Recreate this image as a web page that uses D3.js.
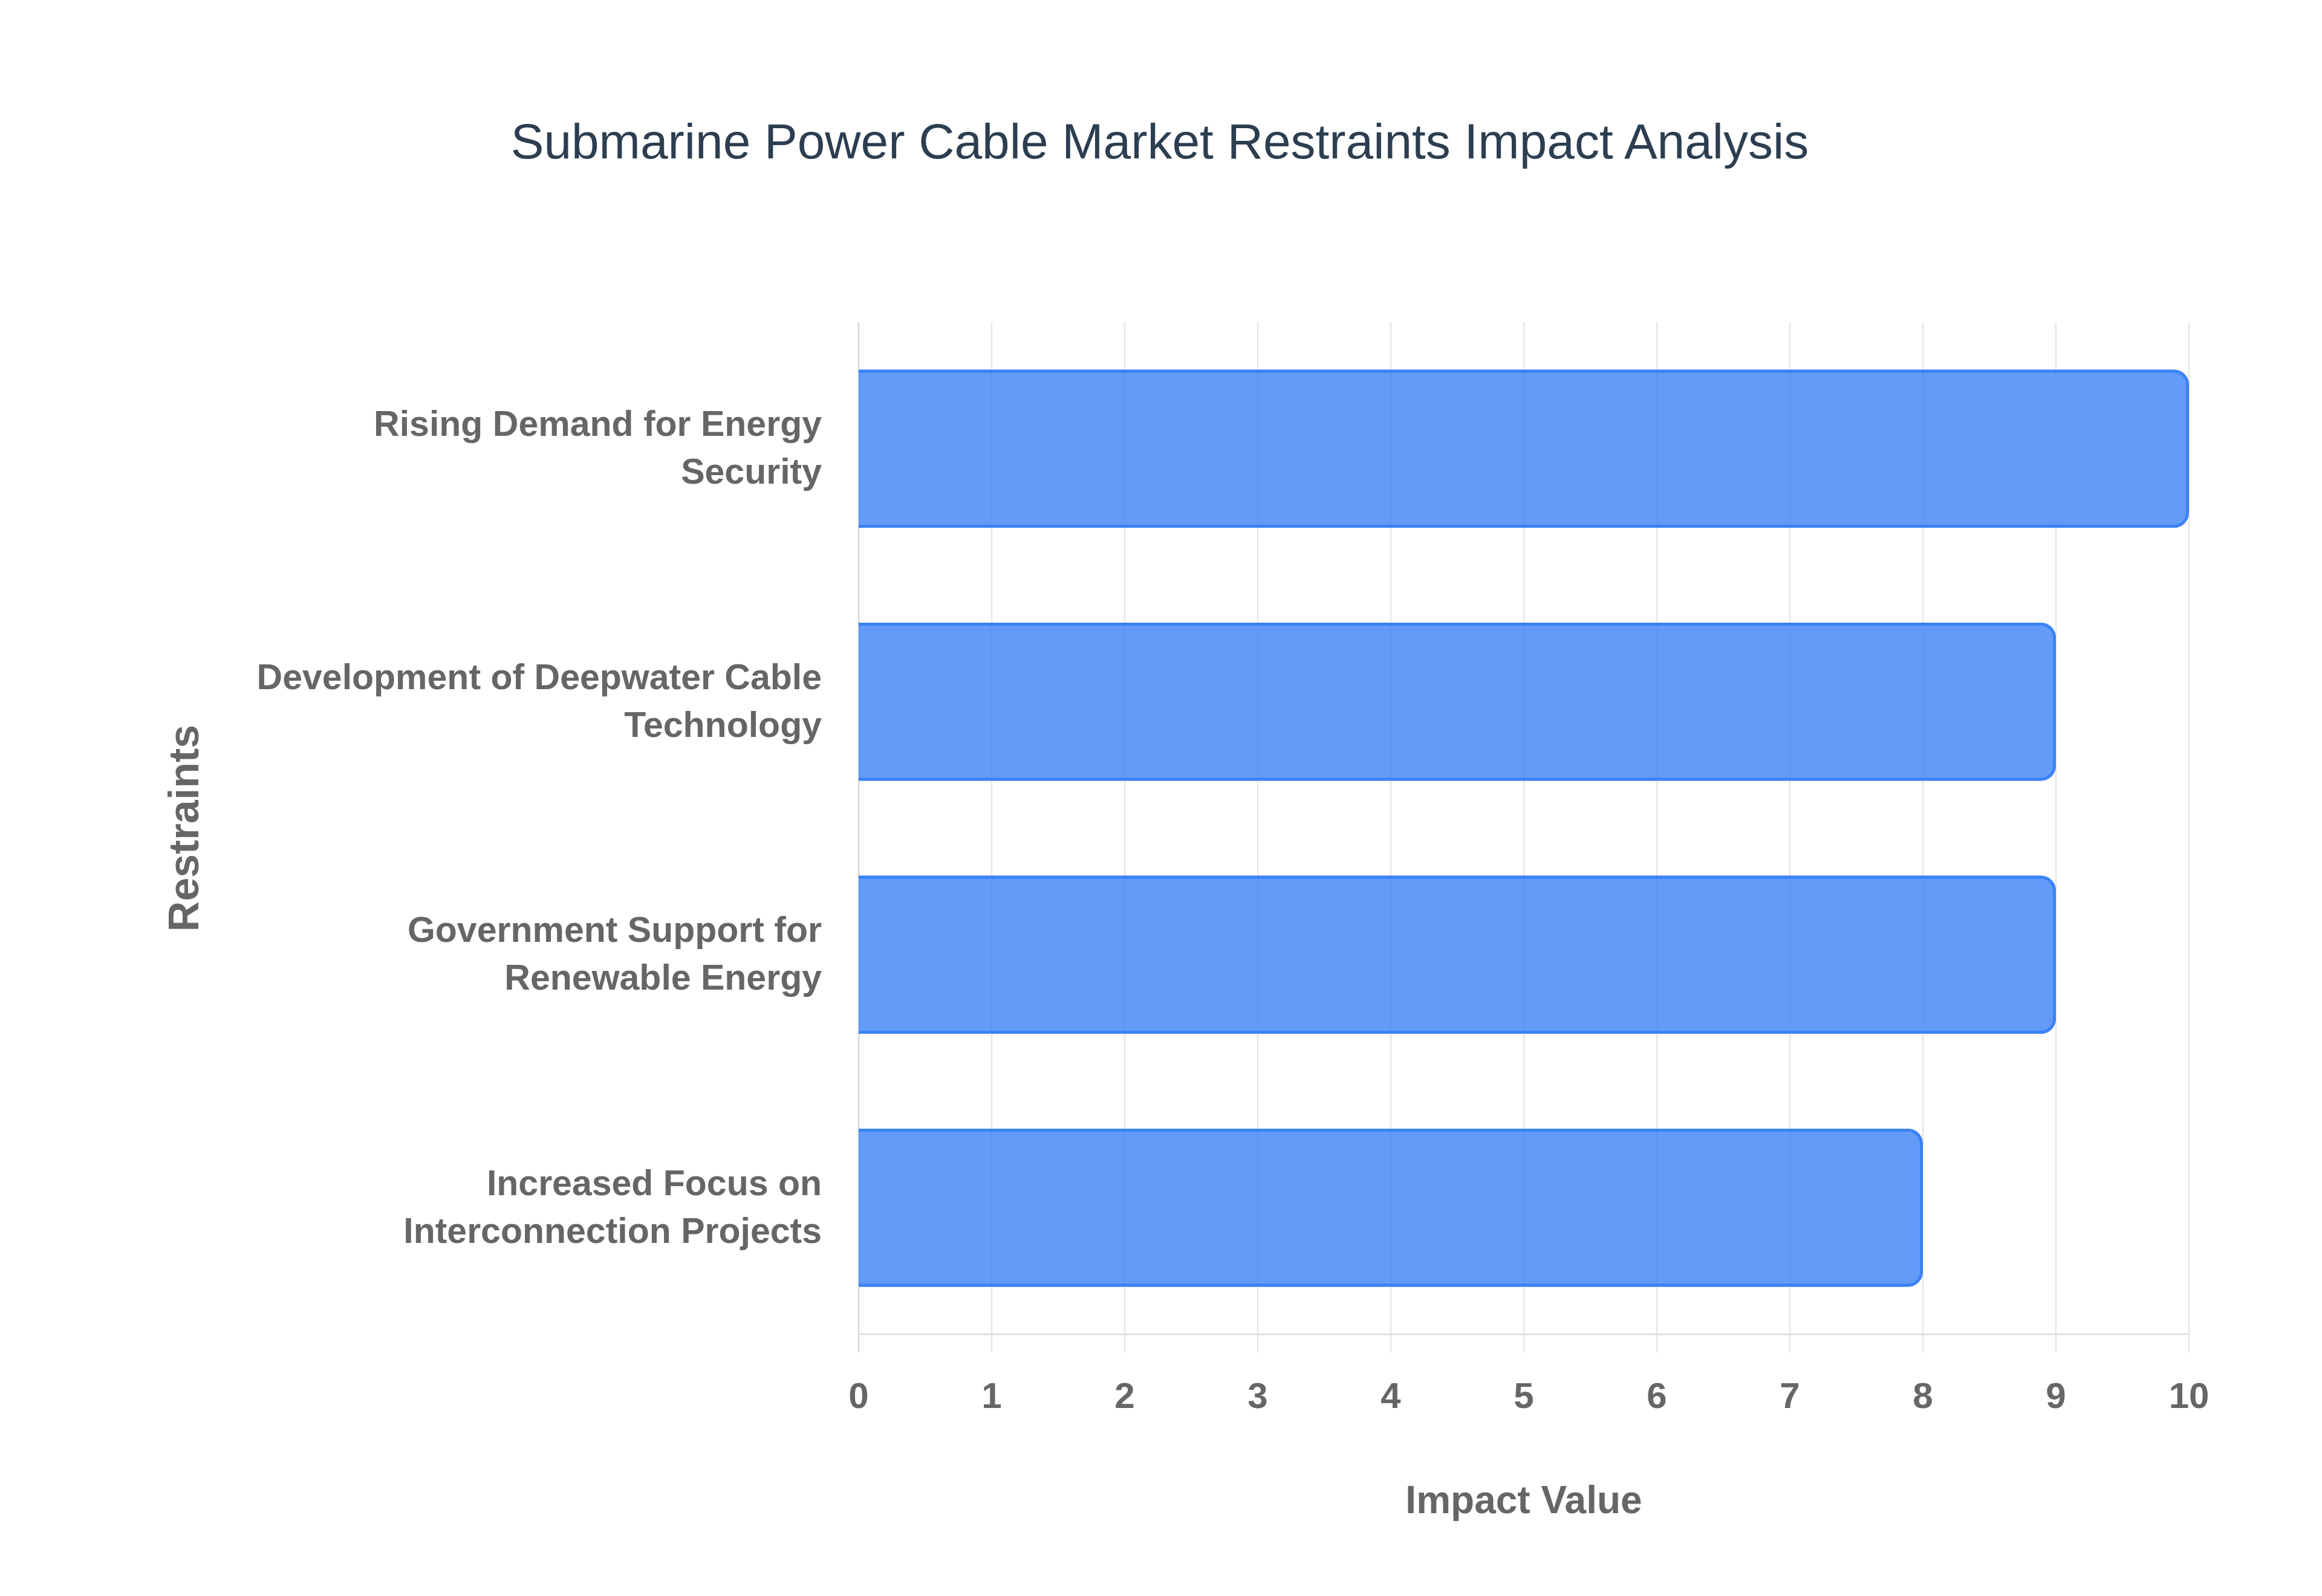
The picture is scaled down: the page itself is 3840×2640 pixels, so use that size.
<!DOCTYPE html>
<html>
<head>
<meta charset="utf-8">
<script src="https://cdn.jsdelivr.net/npm/d3@7"></script>
<style>
  html, body { margin: 0; padding: 0; background: #fff; }
  svg { display: block; }
</style>
</head>
<body>
<div id="chart"></div>
<script>
var restraints = [
      ['Rising Demand for Energy', 'Security'],
      ['Development of Deepwater Cable', 'Technology'],
      ['Government Support for', 'Renewable Energy'],
      ['Increased Focus on', 'Interconnection Projects']
    ],
    impactValues = [10, 9, 9, 8],
    xTicks = [0, 1, 2, 3, 4, 5, 6, 7, 8, 9, 10];

var width = 3840,
    height = 2640,
    margin = { top: 533, right: 220, bottom: 433, left: 1420 },
    innerW = width - margin.left - margin.right,
    innerH = height - margin.top - margin.bottom;

var svg = d3.select('#chart')
            .append('svg')
            .attr('width', width)
            .attr('height', height);

var labelKeys = restraints.map(function(d) { return d.join(' '); });

var x = d3.scaleLinear().domain([0, 10]).range([0, innerW]),
    y = d3.scaleBand().domain(labelKeys).range([0, innerH]).padding(0);

var g = svg.append('g')
           .attr('transform', 'translate(' + margin.left + ',' + margin.top + ')');

// vertical grid, runs a little past the axis like tick marks
g.append('g')
  .selectAll('line')
  .data(xTicks)
  .enter()
    .append('line')
    .attr('x1', function(d) { return x(d); })
    .attr('x2', function(d) { return x(d); })
    .attr('y1', 0)
    .attr('y2', innerH + 30)
    .attr('stroke', function(d) { return d === 0 ? '#d6d6d6' : '#e6e6e6'; })
    .attr('stroke-width', 2.5);

g.append('line')
  .attr('x1', 0).attr('x2', innerW)
  .attr('y1', innerH).attr('y2', innerH)
  .attr('stroke', '#e0e0e0')
  .attr('stroke-width', 3);

// bars: rounded at the value end, no border on the start edge
var barFrac = 0.625, radius = 25, bw = 5;

function barPath(x1, y0, y1, r) {
  r = Math.min(r, x1 / 2, (y1 - y0) / 2);
  return 'M0,' + y0 + 'L' + (x1 - r) + ',' + y0 +
         'A' + r + ',' + r + ' 0 0 1 ' + x1 + ',' + (y0 + r) +
         'L' + x1 + ',' + (y1 - r) +
         'A' + r + ',' + r + ' 0 0 1 ' + (x1 - r) + ',' + y1 +
         'L0,' + y1;
}

var bars = g.append('g')
            .selectAll('.bar')
            .data(impactValues)
            .enter()
              .append('g')
              .attr('class', 'bar');

bars.append('path')
    .attr('d', function(d, i) {
      var h = y.bandwidth() * barFrac,
          y0 = y(labelKeys[i]) + (y.bandwidth() - h) / 2;
      return barPath(x(d), y0, y0 + h, radius) + 'Z';
    })
    .attr('fill', 'rgba(59,130,246,0.8)');

bars.append('path')
    .attr('d', function(d, i) {
      var h = y.bandwidth() * barFrac,
          y0 = y(labelKeys[i]) + (y.bandwidth() - h) / 2;
      return barPath(x(d) - bw / 2, y0 + bw / 2, y0 + h - bw / 2, radius - bw / 2);
    })
    .attr('fill', 'none')
    .attr('stroke', '#3b82f6')
    .attr('stroke-width', bw);

// x tick labels
g.append('g')
  .selectAll('text')
  .data(xTicks)
  .enter()
    .append('text')
    .attr('x', function(d) { return x(d); })
    .attr('y', innerH + 122)
    .attr('text-anchor', 'middle')
    .attr('font-family', 'Liberation Sans, Arial, sans-serif')
    .attr('font-weight', 'bold')
    .attr('font-size', 60)
    .attr('fill', '#666')
    .text(function(d) { return d; });

// y category labels, two lines each
var yl = g.append('g')
          .selectAll('text')
          .data(restraints)
          .enter()
            .append('text')
            .attr('text-anchor', 'end')
            .attr('font-family', 'Liberation Sans, Arial, sans-serif')
            .attr('font-weight', 'bold')
            .attr('font-size', 59)
            .attr('fill', '#666')
            .attr('transform', function(d, i) {
              return 'translate(-61,' + (y(labelKeys[i]) + y.bandwidth() / 2) + ')';
            });

yl.selectAll('tspan')
  .data(function(d) { return d; })
  .enter()
    .append('tspan')
    .attr('x', 0)
    .attr('y', function(d, i) { return i === 0 ? -21 : 58; })
    .text(function(d) { return d; });

// axis titles
svg.append('text')
   .attr('x', margin.left + innerW / 2)
   .attr('y', 2503)
   .attr('text-anchor', 'middle')
   .attr('font-family', 'Liberation Sans, Arial, sans-serif')
   .attr('font-weight', 'bold')
   .attr('font-size', 64)
   .attr('fill', '#666')
   .text('Impact Value');

svg.append('text')
   .attr('transform', 'translate(328,' + (margin.top + innerH / 2) + ') rotate(-90)')
   .attr('text-anchor', 'middle')
   .attr('font-family', 'Liberation Sans, Arial, sans-serif')
   .attr('font-weight', 'bold')
   .attr('font-size', 70)
   .attr('fill', '#666')
   .text('Restraints');

// title
svg.append('text')
   .attr('x', 1918)
   .attr('y', 262)
   .attr('text-anchor', 'middle')
   .attr('font-family', 'Liberation Sans, Arial, sans-serif')
   .attr('font-size', 82)
   .attr('fill', '#2c3e50')
   .text('Submarine Power Cable Market Restraints Impact Analysis');
</script>
</body>
</html>
